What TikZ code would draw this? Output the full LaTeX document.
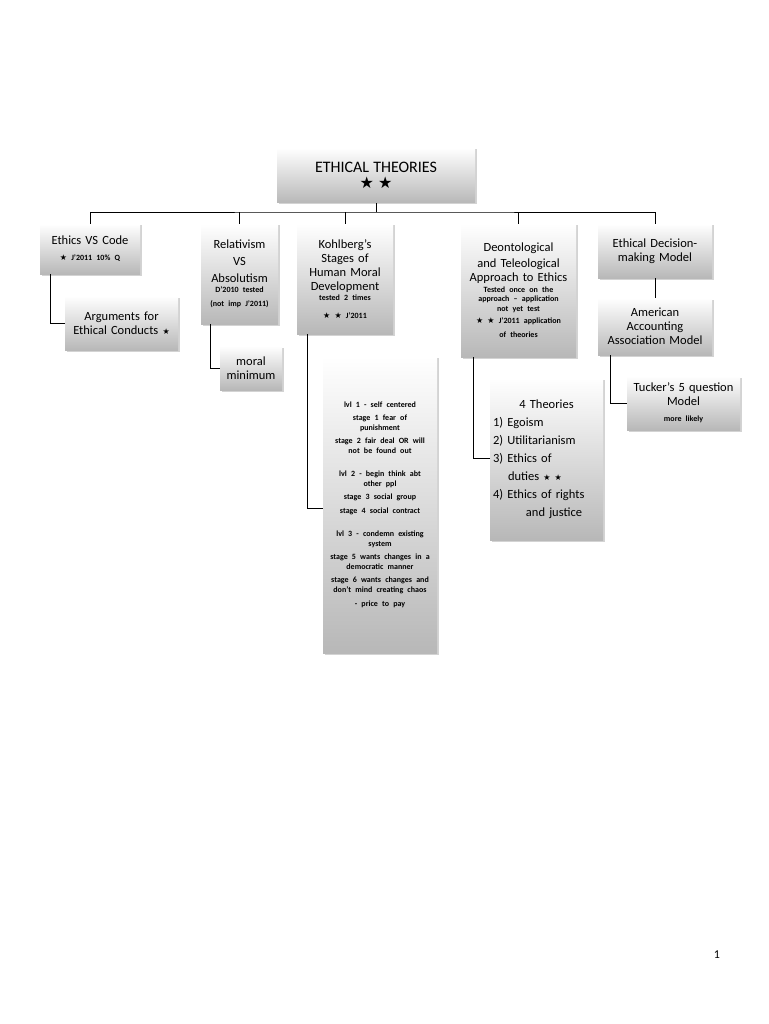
\documentclass[tikz,border=0pt]{standalone}
\usepackage{fontspec}
\setmainfont{Carlito}
\newfontfamily\sym{DejaVu Sans}
\usetikzlibrary{shadows}
\tikzset{
  gbox/.style={top color=white,bottom color=black!28,draw=none,drop shadow={shadow xshift=1.5pt,shadow yshift=-1.5pt,opacity=0.35},
    align=center,inner sep=2pt,font=\fontsize{12.5}{14}\selectfont},
  conn/.style={draw=black,line width=0.8pt}
}
\newcommand{\bx}[7]{% name, x1,y1,x2,y2, text
  \node[gbox,minimum width={(#4-#2)*1pt},minimum height={(#5-#3)*1pt},text width={(#4-#2-6)*1pt}] (#1) at ({(#2+#4)/2},{-(#3+#5)/2}) {#6};}
\begin{document}
\begin{tikzpicture}[x=1pt,y=1pt]
\useasboundingbox (0,0) rectangle (768,-1024);
\bx{root}{277}{148}{475}{203}{\fontsize{16}{19}\selectfont ETHICAL THEORIES\\[2pt]{\sym ★ ★}}{}
\bx{evc}{40}{224}{140}{274}{Ethics VS Code\\[2pt]{\fontsize{8}{9.5}\selectfont\bfseries {\sym\footnotesize ★} J’2011 10\% Q}}{}
\bx{rel}{201}{224}{278}{324}{Relativism\\[3pt] VS\\[3pt] Absolutism\\[1pt]{\fontsize{8}{9.5}\selectfont\bfseries D’2010 tested\\(not imp J’2011)}}{}
\bx{kol}{297}{224}{393}{334}{Kohlberg's\\Stages of\\Human Moral\\Development\\[1pt]{\fontsize{8}{9.5}\selectfont\bfseries tested 2 times\\[4pt]{\sym\footnotesize ★ ★} J’2011}}{}
\bx{deo}{461}{224}{576}{357}{Deontological\\[2pt] and Teleological\\Approach to Ethics\\[1pt]{\fontsize{8}{9.5}\selectfont\bfseries Tested once on the\\approach – application\\not yet test\\[3pt]{\sym\footnotesize ★ ★} J’2011 application\\of theories}}{}
\bx{edm}{598}{224}{712}{278}{Ethical Decision-\\making Model}{}
\bx{arg}{65}{296}{178}{350}{Arguments for\\Ethical Conducts {\sym\footnotesize ★}}{}
\bx{mor}{220}{346}{282}{390}{moral\\minimum}{}
\bx{stg}{323}{356}{437}{653}{\fontsize{8}{9.5}\selectfont\bfseries lvl 1 - self centered\\[4pt] stage 1 fear of\\punishment\\[4pt] stage 2 fair deal OR will\\not be found out\\[14pt] lvl 2 - begin think abt\\other ppl\\[4pt] stage 3 social group\\[4pt] stage 4 social contract\\[14pt] lvl 3 - condemn existing\\system\\[4pt] stage 5 wants changes in a\\democratic manner\\[4pt] stage 6 wants changes and\\don't mind creating chaos\\- price to pay}{}
\bx{four}{490}{378}{603}{540}{4 Theories\\[4pt]\raggedright 1) Egoism\\[4pt] 2) Utilitarianism\\[4pt] 3) Ethics of\\[4pt]\hspace*{1.2em}duties {\sym\footnotesize ★ ★}\\[4pt] 4) Ethics of rights\\[4pt]\hspace*{1.2em}and justice}{}
\bx{aaa}{598}{298}{712}{355}{American\\Accounting\\Association Model}{}
\bx{tuc}{627}{376}{740}{430}{Tucker's 5 question\\Model\\[2pt]{\fontsize{8}{9.5}\selectfont\bfseries more likely}}{}
\node[font=\fontsize{12}{14}\selectfont] (pg) at (717,-955) {1};
% connectors
\coordinate (bus) at (376,-212);
\coordinate (c1) at (50,-274);
\coordinate (c2) at (210,-324);
\coordinate (c3) at (307,-334);
\coordinate (c3e) at (323,-508);
\coordinate (c4) at (473,-357);
\coordinate (c4e) at (490,-458);
\coordinate (c5) at (610,-355);
\draw[conn] (root.south) -- (bus);
\draw[conn] (evc.north) |- (bus) -| (edm.north);
\draw[conn] (rel.north) -- (rel.north |- bus);
\draw[conn] (kol.north) -- (kol.north |- bus);
\draw[conn] (deo.north) -- (deo.north |- bus);
\draw[conn] (c1) |- (arg.west);
\draw[conn] (c2) |- (mor.west);
\draw[conn] (c3) |- (c3e);
\draw[conn] (c4) |- (c4e);
\draw[conn] (edm.south) -- (aaa.north);
\draw[conn] (c5) |- (tuc.west);
\end{tikzpicture}
\end{document}
